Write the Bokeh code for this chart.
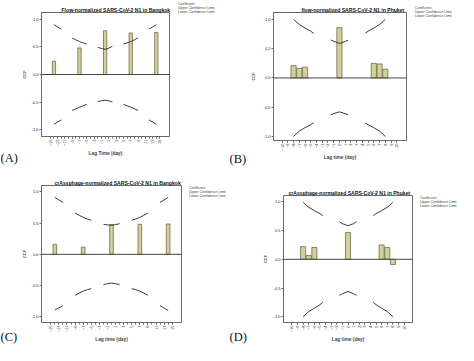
import math
import numpy as np
from bokeh.plotting import figure
from bokeh.models import FixedTicker, NumeralTickFormatter, Span, Legend, LegendItem, Label
from bokeh.layouts import column, row
from bokeh.embed import file_html
from bokeh.resources import INLINE

NAN = float("nan")

# ---------------- data ----------------
# (A) flow-normalized, Bangkok
a_title = "Flow-normalized SARS-CoV-2 N1 in Bangkok"
a_xlabel = "Lag Time (day)"
a_letter = "(A)"
a_lags = [-14, -7, 0, 7, 14]
a_ccf = [0.24, 0.48, 0.79, 0.75, 0.76]
a_cl_lags = [-14, -13, -12, NAN, -9, -8, -7, -6, -5, NAN, -2, -1, 0, 1, 2, NAN, 5, 6, 7, 8, 9, NAN, 12, 13, 14]
a_ucl = [0.90, 0.86, 0.82, NAN, 0.66, 0.625, 0.595, 0.57, 0.55, NAN, 0.49, 0.47, 0.455, 0.475, 0.51, NAN,
         0.55, 0.57, 0.595, 0.625, 0.665, NAN, 0.82, 0.86, 0.90]
a_lcl = [-0.90, -0.86, -0.82, NAN, -0.65, -0.62, -0.59, -0.565, -0.54, NAN, -0.49, -0.475, -0.465, -0.475, -0.50, NAN,
         -0.54, -0.565, -0.59, -0.62, -0.65, NAN, -0.82, -0.86, -0.90]

# (B) flow-normalized, Phuket
b_title = "flow-normalized SARS-CoV-2 N1 in Phuket"
b_xlabel = "Lag time (day)"
b_letter = "(B)"
b_lags = [-8, -7, -6, 0, 6, 7, 8]
b_ccf = [0.21, 0.165, 0.185, 0.86, 0.25, 0.24, 0.15]
b_cl_lags = [-8, -7, -6, -5, -4.5, NAN, -1.5, -1, 0, 1, 1.5, NAN, 4.5, 5, 6, 7, 8]
b_ucl = [1.0, 0.915, 0.855, 0.80, 0.765, NAN, 0.65, 0.63, 0.59, 0.625, 0.645, NAN, 0.765, 0.80, 0.855, 0.915, 1.0]
b_lcl = [-1.0, -0.91, -0.85, -0.80, -0.77, NAN, -0.63, -0.61, -0.58, -0.61, -0.63, NAN, -0.77, -0.80, -0.85, -0.91, -1.0]

# (C) crAssphage-normalized, Bangkok
c_title = "crAssphage-normalized SARS-CoV-2 N1 in Bangkok"
c_xlabel = "Lag time (day)"
c_letter = "(C)"
c_lags = [-14, -7, 0, 7, 14]
c_ccf = [0.16, 0.115, 0.475, 0.48, 0.485]
c_cl_lags = [-14, -13, -12, NAN, -9, -8, -7, -6, -5, NAN, -2, -1, 0, 1, 2, NAN, 5, 6, 7, 8, 9, NAN, 12, 13, 14]
c_ucl = [0.91, 0.87, 0.83, NAN, 0.66, 0.625, 0.59, 0.565, 0.545, NAN, 0.48, 0.47, 0.465, 0.475, 0.49, NAN,
         0.545, 0.565, 0.59, 0.625, 0.66, NAN, 0.83, 0.87, 0.91]
c_lcl = [-0.89, -0.855, -0.82, NAN, -0.655, -0.62, -0.59, -0.565, -0.55, NAN, -0.485, -0.47, -0.46, -0.47, -0.485, NAN,
         -0.55, -0.565, -0.59, -0.62, -0.655, NAN, -0.82, -0.86, -0.90]

# (D) crAssphage-normalized, Phuket
d_title = "crAssphage-normalized SARS-CoV-2 N1 in Phuket"
d_xlabel = "Lag time (day)"
d_letter = "(D)"
d_lags = [-8, -7, -6, 0, 6, 7, 8]
d_ccf = [0.22, 0.065, 0.205, 0.467, 0.25, 0.205, -0.09]
d_cl_lags = [-8, -7, -6, -5, -4.5, NAN, -1.5, -1, 0, 1, 1.5, NAN, 4.5, 5, 6, 7, 8]
d_ucl = [0.99, 0.905, 0.845, 0.795, 0.76, NAN, 0.65, 0.62, 0.585, 0.62, 0.655, NAN, 0.76, 0.795, 0.845, 0.905, 0.99]
d_lcl = [-1.0, -0.91, -0.85, -0.79, -0.75, NAN, -0.627, -0.60, -0.56, -0.60, -0.627, NAN, -0.75, -0.79, -0.85, -0.91, -1.0]

# tick labels
ticks_15 = [-15, -13, -11, -9, -7, -5, -3, -1, 1, 3, 5, 7, 9, 11, 13, 15]
minor_15 = [-15, -14, -13, -12, -11, -10, -9, -8, -7, -6, -5, -4, -3, -2, -1, 0,
            1, 2, 3, 4, 5, 6, 7, 8, 9, 10, 11, 12, 13, 14, 15]
ticks_10 = [-10, -9, -8, -7, -6, -5, -4, -3, -2, -1, 0, 1, 2, 3, 4, 5, 6, 7, 8, 9, 10]
y_ticks = [-1.0, -0.5, 0.0, 0.5, 1.0]
legend_labels = ["Coefficient", "Upper Confidence Limit", "Lower Confidence Limit"]

# ---------------- style ----------------
BAR_FILL = "#d4d09c"
BAR_LINE = "#6e6b4c"
LINE_C = "#3a3a3a"
FRAME_C = "#6a6a6a"
SANS = "Liberation Sans"
SERIF = "Liberation Serif"


def blank(w, h):
    """An axis-less strip whose frame is the whole canvas (1 data unit = 1 px)."""
    f = figure(width=w, height=h, x_range=(0, w), y_range=(0, h), output_backend="svg",
               toolbar_location=None, x_axis_location=None, y_axis_location=None,
               min_border=0, min_border_left=0, min_border_right=0, min_border_top=0,
               min_border_bottom=0, background_fill_color="white", border_fill_color="white",
               frame_align=False)
    f.outline_line_color = None
    f.grid.visible = False
    f.title.visible = False
    return f


def letter_strip(text, w, h, y):
    f = blank(w, h)
    f.add_layout(Label(x=0, y=y, text=text, text_font=SERIF, text_font_size="12.5px",
                       text_align="left", text_baseline="top", text_color="#111111"))
    return f


def legend_strip(w, h, x_off, y_off):
    f = blank(w, h)
    pb = f.vbar(x=[], top=[], width=0.9, fill_color=BAR_FILL, line_color=BAR_LINE, line_width=0.8)
    pu = f.line(x=[], y=[], line_color=LINE_C, line_width=1)
    pl = f.line(x=[], y=[], line_color=LINE_C, line_width=1)
    legend = Legend(items=[LegendItem(label=legend_labels[0], renderers=[pb]),
                           LegendItem(label=legend_labels[1], renderers=[pu]),
                           LegendItem(label=legend_labels[2], renderers=[pl])],
                    location=(x_off, h - y_off - 14), label_text_font=SANS,
                    label_text_font_size="3.5px", label_height=4, label_width=10,
                    glyph_height=4, glyph_width=5, spacing=0, padding=1, margin=0,
                    label_standoff=2, border_line_color=None, background_fill_alpha=0)
    f.add_layout(legend)
    return f


def chart(title, title_off, xlabel, lags, ccf, cl_lags, ucl, lcl, ticks, minor, xr, yr,
          w, h, bl, br, bt, bb, ylab_standoff):
    p = figure(width=w, height=h, x_range=xr, y_range=yr, output_backend="svg",
               toolbar_location=None, min_border_left=bl, min_border_right=br,
               min_border_top=bt, min_border_bottom=bb, background_fill_color="white",
               border_fill_color="white", frame_align=False, title=title)
    p.title.align = "left"
    p.title.offset = title_off
    p.title.standoff = 0
    p.title.text_font = SANS
    p.title.text_font_size = "5.1px"
    p.title.text_font_style = "bold"
    p.title.text_color = "#111111"
    p.outline_line_color = FRAME_C
    p.outline_line_width = 1
    p.xgrid.visible = False
    p.ygrid.visible = False

    p.vbar(x=np.array(lags, dtype=float), top=np.array(ccf, dtype=float), bottom=0,
           width=0.9, fill_color=BAR_FILL, line_color=BAR_LINE, line_width=0.8)
    p.line(np.array(cl_lags, dtype=float), np.array(ucl, dtype=float), line_color=LINE_C, line_width=1)
    p.line(np.array(cl_lags, dtype=float), np.array(lcl, dtype=float), line_color=LINE_C, line_width=1)
    p.add_layout(Span(location=0, dimension="width", line_color="#444444", line_width=1))

    xa = p.xaxis[0]
    xa.ticker = FixedTicker(ticks=ticks, minor_ticks=minor)
    xa.major_label_orientation = math.pi / 2
    xa.major_label_text_font = SANS
    xa.major_label_text_font_size = "4px"
    xa.major_label_text_color = "#222222"
    xa.major_label_standoff = 1
    xa.major_tick_out = 2
    xa.major_tick_in = 0
    xa.minor_tick_out = 2
    xa.minor_tick_in = 0
    xa.axis_line_color = FRAME_C
    xa.major_tick_line_color = FRAME_C
    xa.minor_tick_line_color = FRAME_C
    xa.axis_label = xlabel
    xa.axis_label_text_font = SANS
    xa.axis_label_text_font_size = "4.8px"
    xa.axis_label_text_font_style = "bold"
    xa.axis_label_standoff = 2

    ya = p.yaxis[0]
    ya.ticker = FixedTicker(ticks=y_ticks)
    ya.formatter = NumeralTickFormatter(format="0.0")
    ya.major_label_text_font = SANS
    ya.major_label_text_font_size = "4px"
    ya.major_label_text_color = "#222222"
    ya.major_label_standoff = 1
    ya.major_tick_out = 2
    ya.major_tick_in = 0
    ya.minor_tick_out = 0
    ya.minor_tick_in = 0
    ya.axis_line_color = FRAME_C
    ya.major_tick_line_color = FRAME_C
    ya.axis_label = "CCF"
    ya.axis_label_text_font = SANS
    ya.axis_label_text_font_size = "4px"
    ya.axis_label_text_font_style = "bold"
    ya.axis_label_standoff = ylab_standoff
    return p


def quadrant(title, title_off, letter, xlabel, lags, ccf, cl_lags, ucl, lcl, ticks, minor, xr, yr,
             h, letter_w, letter_y, chart_w, bl, br, bt, bb, ylab_standoff,
             legend_w, leg_x, leg_y):
    l = letter_strip(letter, letter_w, h, letter_y)
    c = chart(title, title_off, xlabel, lags, ccf, cl_lags, ucl, lcl, ticks, minor, xr, yr,
              chart_w, h, bl, br, bt, bb, ylab_standoff)
    g = legend_strip(legend_w, h, leg_x, leg_y)
    return row(l, c, g)


qA = quadrant(a_title, 20, a_letter, a_xlabel, a_lags, a_ccf, a_cl_lags, a_ucl, a_lcl, ticks_15, minor_15,
              (-17.4, 17.6), (-1.12, 1.12), 172, 18, 22, 153, 17, 2, 12, 36, 2, 58, 0, 0)
qB = quadrant(b_title, 28, b_letter, b_xlabel, b_lags, b_ccf, b_cl_lags, b_ucl, b_lcl, ticks_10, ticks_10,
              (-11.5, 11.7), (-1.07, 1.12), 172, 18, 21, 160, 24, 1, 12, 32, 5, 51, 1, 4)
qC = quadrant(c_title, 13, c_letter, c_xlabel, c_lags, c_ccf, c_cl_lags, c_ucl, c_lcl, ticks_15, minor_15,
              (-17.3, 17.3), (-1.09, 1.10), 173, 18, 16, 164, 19, 1, 13, 22, 2, 47, 0, 12)
qD = quadrant(d_title, 5, d_letter, d_xlabel, d_lags, d_ccf, d_cl_lags, d_ucl, d_lcl, ticks_10, ticks_10,
              (-11.5, 11.5), (-1.10, 1.11), 173, 18, 16, 166, 36, 1, 23, 21, 3, 45, 0, 22)

layout = column(row(qA, qB), row(qC, qD))
open("out.html", "w").write(file_html(layout, INLINE))
